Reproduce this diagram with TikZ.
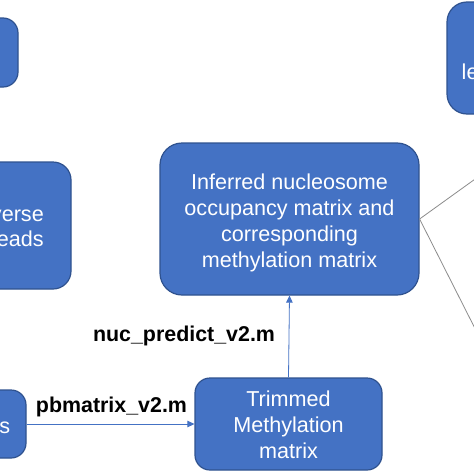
\documentclass[tikz,border=0pt]{standalone}
\usepackage{fontspec}
\setmainfont{Liberation Sans}
\usetikzlibrary{arrows.meta}
\definecolor{boxfill}{HTML}{4472C4}
\definecolor{boxline}{HTML}{2F528F}
\definecolor{linkgray}{HTML}{8C8C8C}
\tikzset{
  flowbox/.style={draw=boxline, fill=boxfill, line width=1.2pt, inner sep=0pt},
  boxtext/.style={text=white, font=\fontsize{21.6pt}{25.8pt}\selectfont, align=center, inner sep=0pt},
  scriptlabel/.style={text=black, font=\fontsize{21.4pt}{25pt}\selectfont\bfseries, inner sep=0pt},
  flowarrow/.style={draw=boxfill, line width=0.8pt, -{Triangle[length=7pt,width=6.5pt]}},
  graylink/.style={draw=linkgray, line width=0.8pt}
}
\begin{document}
\begin{tikzpicture}[x=1pt,y=-1pt]
\useasboundingbox (0,0) rectangle (474,474);
\fill[white] (0,0) rectangle (474,474);
\clip (0,0) rectangle (474,474);

% boxes
\node[flowbox, rounded corners=15pt, minimum width=80pt, minimum height=69pt] (topleft) at (-22,52.5) {};
\node[flowbox, rounded corners=18pt, minimum width=180pt, minimum height=127pt] (leftmid) at (-19,225.5) {};
\node[flowbox, rounded corners=15pt, minimum width=130pt, minimum height=68pt] (botleft) at (-39,424) {};
\node[flowbox, rounded corners=20pt, minimum width=120pt, minimum height=112pt] (topright) at (507,58) {};
\node[flowbox, rounded corners=22pt, minimum width=259pt, minimum height=152pt] (infer) at (289.5,219) {};
\node[flowbox, rounded corners=15pt, minimum width=187pt, minimum height=92pt] (trim) at (288.5,424) {};

% box texts
\node[boxtext] (infertext) at ([yshift=-4pt]infer.center) {Inferred nucleosome\\occupancy matrix and\\corresponding\\methylation matrix};
\node[boxtext] (trimtext) at ([yshift=-1pt]trim.center) {Trimmed\\Methylation\\matrix};
\node[boxtext, anchor=base east] (lefttext1) at (44,221) {reverse};
\node[boxtext, anchor=base east] (lefttext2) at (44,246) {reads};
\node[boxtext, anchor=base east] (botlefttext) at (10.5,433) {reads};
\node[boxtext, anchor=base west] (toprighttext) at (461.5,79) {le};

% connectors
\draw[flowarrow] (trim.north) -- (infer.south);
\draw[flowarrow] (botleft.east) -- (trim.west);
\coordinate (upend) at (496,164);
\coordinate (downend) at (496,370);
\draw[graylink] (infer.east) -- (upend);
\draw[graylink] (infer.east) -- (downend);

% labels
\node[scriptlabel, anchor=base] (nuclabel) at (184,341) {nuc\_predict\_v2.m};
\node[scriptlabel, anchor=base] (pblabel) at (111.5,412) {pbmatrix\_v2.m};
\end{tikzpicture}
\end{document}
